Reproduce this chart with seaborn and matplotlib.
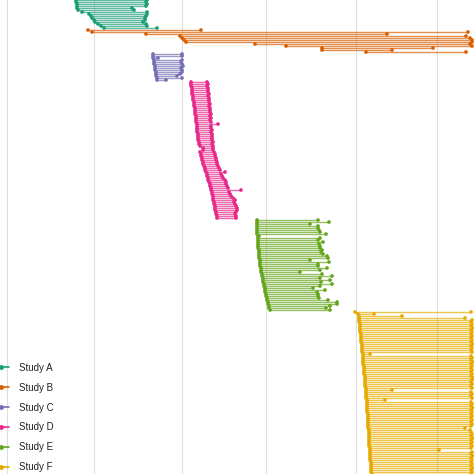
import numpy as np
import pandas as pd
import matplotlib
matplotlib.use("Agg")
import matplotlib.pyplot as plt
import seaborn as sns
from matplotlib.lines import Line2D

studies = ["Study A", "Study B", "Study C", "Study D", "Study E", "Study F"]

a_start = [76, 76, 76, 76, 77, 77, 77, 78, 82, 89, 91, 92, 94, 95, 98, 101, 104]
a_end = [147, 147, 147, 146, 147, 146, 132, 134, 147, 147, 146, 145, 145, 143, 146, 147, 157]

b_start = [88, 92, 146, 180, 182, 184, 186, 255, 286, 322, 322, 366]
b_end = [201, 468, 387, 466, 470, 472, 472, 470, 472, 433, 392, 466]

c_start = [153, 153, 153, 154, 154, 154, 155, 155, 155, 156, 156, 156, 157, 157]
c_end = [182, 182, 158, 182, 181, 182, 183, 181, 182, 182, 180, 177, 182, 166]

d_start = [191, 191, 191, 192, 192, 192, 192, 193, 193, 193, 194, 194, 194, 195, 195, 195, 195,
           196, 196, 196, 196, 197, 197, 197, 197, 197, 198, 198, 198, 198, 199, 199, 200, 203,
           203, 200, 201, 201, 202, 202, 203, 203, 204, 205, 205, 206, 207, 207, 208, 208, 209,
           210, 210, 211, 211, 212, 212, 213, 213, 213, 214, 214, 215, 215, 215, 216, 216, 217, 217]
d_end = [207, 208, 207, 208, 208, 208, 209, 208, 209, 209, 209, 210, 209, 210, 210, 210, 211,
         210, 211, 210, 211, 218, 211, 211, 212, 211, 212, 212, 212, 212, 213, 212, 213, 213,
         213, 214, 215, 215, 216, 216, 217, 217, 218, 219, 220, 225, 221, 222, 223, 225, 226,
         226, 227, 228, 241, 229, 230, 231, 233, 235, 234, 235, 236, 237, 237, 236, 235, 236, 236]

e_start = [257, 257, 257, 257, 257, 257, 257, 257, 258, 258, 258, 258, 258, 258, 258, 259,
           259, 259, 259, 259, 260, 260, 260, 260, 261, 261, 261, 262, 262, 263, 263, 263,
           264, 264, 265, 265, 265, 266, 266, 267, 267, 268, 268, 269, 269, 270]
e_end = [318, 329, 310, 318, 318, 319, 320, 326, 259, 320, 318, 323, 319, 320, 320, 322,
         321, 323, 327, 328, 310, 329, 318, 318, 327, 320, 300, 322, 332, 320, 330, 321,
         332, 320, 313, 325, 317, 318, 318, 319, 328, 337, 337, 330, 326, 330]

f_start = [355, 358, 359, 359, 359, 359, 360, 360, 360, 360, 360, 361, 361, 361, 361, 361,
           362, 362, 362, 362, 362, 363, 363, 363, 363, 363, 363, 364, 364, 364, 364, 364,
           365, 365, 365, 365, 365, 365, 366, 366, 366, 366, 366, 366, 367, 367, 367, 367,
           367, 367, 367, 368, 368, 368, 368, 368, 368, 368, 368, 369, 369, 369, 369, 369,
           369, 369, 369, 369, 370, 370, 370, 370, 370, 370, 370, 371, 371, 371, 371, 371,
           371, 372, 372, 372]
f_end = [471, 374, 402, 465, 472, 471, 472, 471, 473, 471, 472, 471, 472, 471, 472, 471,
         473, 471, 472, 471, 472, 370, 471, 472, 471, 473, 471, 472, 471, 472, 471, 472,
         471, 473, 472, 471, 472, 471, 472, 392, 471, 472, 471, 472, 385, 471, 472, 471,
         473, 471, 472, 471, 472, 471, 472, 471, 472, 471, 465, 470, 471, 472, 471, 473,
         471, 472, 471, 472, 471, 439, 472, 471, 473, 471, 472, 471, 472, 471, 473, 471,
         472, 471, 472, 471]

grid_days = [7, 94, 182, 266, 356, 437]

starts = [a_start, b_start, c_start, d_start, e_start, f_start]
ends = [a_end, b_end, c_end, d_end, e_end, f_end]

rows = []
idx = 0
for study, ss, ee in zip(studies, starts, ends):
    for s, e in zip(ss, ee):
        rows.append({"study": study, "subject": idx, "start": s, "end": e})
        idx += 1
df = pd.DataFrame(rows)
long = df.melt(id_vars=["study", "subject"], value_vars=["start", "end"],
               var_name="point", value_name="day")
long = long.sort_values(["subject", "point"], ascending=[True, False]).reset_index(drop=True)

sns.set_theme(style="white")
plt.rcParams["font.family"] = ["Liberation Sans", "DejaVu Sans"]

palette = dict(zip(studies, sns.color_palette("Dark2", 6)))

fig = plt.figure(figsize=(4.74, 4.74), dpi=100)
ax = fig.add_axes([0, 0, 1, 1])

sns.lineplot(data=long, x="day", y="subject", hue="study", units="subject",
             estimator=None, sort=False, palette=palette, lw=1.0, alpha=0.7,
             legend=False, ax=ax)
sns.scatterplot(data=long, x="day", y="subject", hue="study", palette=palette,
                s=7, linewidth=0, legend=False, ax=ax, zorder=3)

ax.set_xlim(0, 474)
ax.set_ylim(239, 2)
ax.set_xticks(grid_days)
ax.set_yticks([])
ax.set_xticklabels([])
ax.tick_params(length=0)
ax.grid(axis="x", color="#dedede", lw=0.8)
ax.set_axisbelow(True)
for sp in ax.spines.values():
    sp.set_visible(False)
ax.set_xlabel("")
ax.set_ylabel("")

handles = [Line2D([0], [0], color=palette[s], marker="o", markersize=2.5, lw=1.2)
           for s in studies]
leg = ax.legend(handles, studies, loc="upper left", bbox_to_anchor=(-0.023, 0.243),
                borderaxespad=0, frameon=False, fontsize=7, handlelength=1.65,
                handletextpad=1.0, labelspacing=1.02, labelcolor="#222222")

fig.savefig("out.png", dpi=100, facecolor="white")
